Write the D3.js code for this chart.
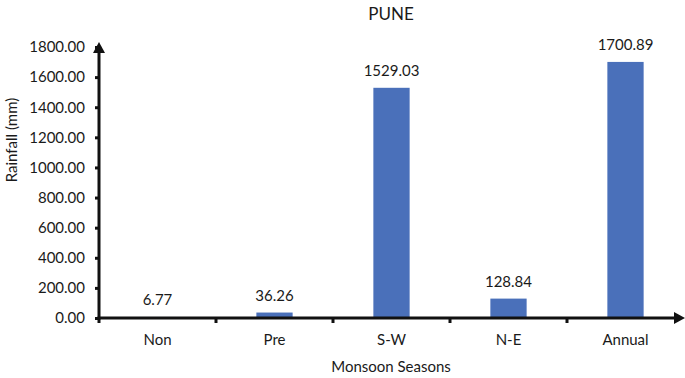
<!DOCTYPE html>
<html><head><meta charset="utf-8">
<script src="https://cdn.jsdelivr.net/npm/d3@7"></script>
<style>body{margin:0;background:#fff}svg{display:block}text{font-family:Lato,"Open Sans",sans-serif;fill:#1a1a1a}</style>
</head><body><svg id="c" width="685" height="378"></svg>
<script>
const categories = ["Non","Pre","S-W","N-E","Annual"];
const values = [6.77,36.26,1529.03,128.84,1700.89];
const yTicks = [0,200,400,600,800,1000,1200,1400,1600,1800];
const title = "PUNE";
const xTitle = "Monsoon Seasons";
const yTitle = "Rainfall (mm)";

const svg = d3.select("#c");
const L = 99, R = 684, T = 47, B = 318;
const x = d3.scaleBand().domain(categories).range([L, R]).paddingInner(0.69).paddingOuter(0.345);
const xb = d3.scaleBand().domain(categories).range([L, R]);
const y = d3.scaleLinear().domain([0,1800]).range([B, T]);
const FS = 15;

svg.append("text").attr("x", 391).attr("y", 20).attr("text-anchor","middle").attr("font-size",17).text(title);

// bars
svg.selectAll("rect.bar").data(values).join("rect").attr("class","bar")
  .attr("x",(d,i)=>x(categories[i])).attr("width",x.bandwidth())
  .attr("y",d=>y(d)).attr("height",d=>B-y(d)).attr("fill","#4a70ba");

// value labels
svg.selectAll("text.val").data(values).join("text").attr("class","val")
  .attr("x",(d,i)=>xb(categories[i])+xb.bandwidth()/2)
  .attr("y",d=>y(d)-12).attr("text-anchor","middle").attr("font-size",FS)
  .text(d=>d.toFixed(2));

// y axis
const ya = svg.append("g").attr("transform",`translate(${L},0)`)
  .call(d3.axisLeft(y).tickValues(yTicks).tickFormat(d=>d.toFixed(2)).tickSize(4).tickPadding(10));
ya.select(".domain").remove();
ya.selectAll(".tick line").attr("stroke","#111").attr("stroke-width",3);
ya.selectAll(".tick text").attr("font-size",FS).attr("font-family","Lato,'Open Sans',sans-serif").attr("fill","#1a1a1a");

// x axis
const xa = svg.append("g").attr("transform",`translate(0,${B})`)
  .call(d3.axisBottom(xb).tickSize(0).tickPadding(16));
xa.select(".domain").remove();
xa.selectAll(".tick text").attr("font-size",FS).attr("font-family","Lato,'Open Sans',sans-serif").attr("fill","#1a1a1a");
// band-boundary ticks
svg.selectAll("line.xt").data(categories.slice(1)).join("line").attr("class","xt")
  .attr("x1",d=>xb(d)).attr("x2",d=>xb(d)).attr("y1",B).attr("y2",B+5)
  .attr("stroke","#111").attr("stroke-width",3);
svg.append("line").attr("x1",L).attr("x2",L).attr("y1",B).attr("y2",B+5).attr("stroke","#111").attr("stroke-width",3);

// axis lines with arrows
svg.append("line").attr("x1",L).attr("x2",L).attr("y1",B+1.5).attr("y2",T+4).attr("stroke","#111").attr("stroke-width",3);
svg.append("path").attr("d",`M${L-6},${T+6}L${L},${T-5}L${L+6},${T+6}Z`).attr("fill","#111");
svg.append("line").attr("x1",L-1.5).attr("x2",R-6).attr("y1",B).attr("y2",B).attr("stroke","#111").attr("stroke-width",3);
svg.append("path").attr("d",`M${R-10},${B-6}L${R+1},${B}L${R-10},${B+6}Z`).attr("fill","#111");

svg.append("text").attr("x",391).attr("y",372).attr("text-anchor","middle").attr("font-size",FS).text(xTitle);
svg.append("text").attr("transform","translate(17,140) rotate(-90)").attr("text-anchor","middle").attr("font-size",FS).text(yTitle);
</script></body></html>
